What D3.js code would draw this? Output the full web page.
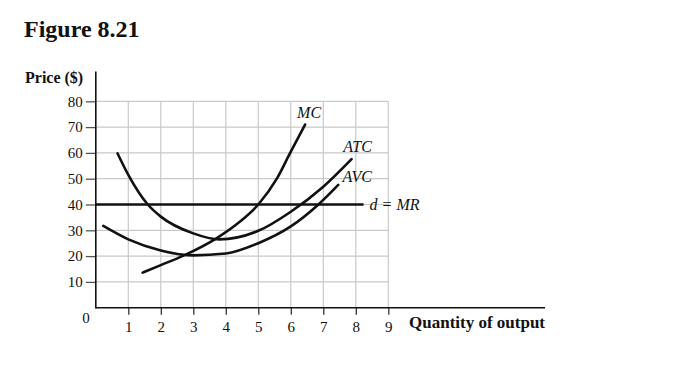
<!DOCTYPE html>
<html>
<head>
<meta charset="utf-8">
<script src="https://cdn.jsdelivr.net/npm/d3@7"></script>
<style>
  body { margin: 0; background: #fff; }
  svg { display: block; }
  text { font-family: "Liberation Serif", "Times New Roman", serif; fill: #111; }
</style>
</head>
<body>
<div id="vis"></div>
<script>
// data: [quantity, price]
const quantities = [1, 2, 3, 4, 5, 6, 7, 8, 9];
const priceTicks = [10, 20, 30, 40, 50, 60, 70, 80];
const mcCurve = [[1.44, 13.6], [2, 16.5], [2.7, 20.2], [3.7, 26.8], [4.4, 33], [5, 40], [5.57, 50], [5.98, 60], [6.44, 71]];
const atcCurve = [[0.67, 59.8], [1, 51.5], [1.6, 40], [2, 35.3], [3, 28.8], [3.8, 26.5], [5, 29.8], [6, 37.2], [7, 46.9], [7.87, 57.6]];
const avcCurve = [[0.23, 31.7], [1, 26.5], [2, 22.2], [3, 20.3], [4, 21], [5, 25], [6, 31.5], [6.85, 40], [7.46, 47.6]];
const mrPrice = 40;
const mrRange = [0, 8.24];

const width = 674;
const height = 380;

const svg = d3.select('#vis')
    .append('svg')
    .attr('width', width)
    .attr('height', height);

const x = d3.scaleLinear().domain([0, 9]).range([95.8, 388.3]);
const y = d3.scaleLinear().domain([0, 80]).range([307.7, 101.3]);

// grid
svg.append('g')
    .selectAll('line')
    .data(priceTicks)
    .join('line')
    .attr('x1', x(0)).attr('x2', x(9))
    .attr('y1', d => y(d)).attr('y2', d => y(d))
    .style('stroke', '#c9c9c9').style('stroke-width', 1.2);

svg.append('g')
    .selectAll('line')
    .data(quantities)
    .join('line')
    .attr('x1', d => x(d)).attr('x2', d => x(d))
    .attr('y1', y(0)).attr('y2', y(80))
    .style('stroke', '#c9c9c9').style('stroke-width', 1.2);

// axes
const yAxis = svg.append('g')
    .attr('transform', `translate(${x(0)},0)`)
    .call(d3.axisLeft(y).tickValues(priceTicks).tickSize(10).tickPadding(3));
yAxis.select('.domain').remove();
yAxis.selectAll('text').style('font-size', '15px').style('font-family', '"Liberation Serif", serif').style('fill', '#111');
yAxis.selectAll('line').style('stroke', '#555').style('stroke-width', 1.3);

const xAxis = svg.append('g')
    .attr('transform', `translate(0,${y(0)})`)
    .call(d3.axisBottom(x).tickValues(quantities).tickSize(7).tickPadding(7));
xAxis.select('.domain').remove();
xAxis.selectAll('text').style('font-size', '15px').style('font-family', '"Liberation Serif", serif').style('fill', '#111');
xAxis.selectAll('line').style('stroke', '#333').style('stroke-width', 1.3);

svg.append('line')
    .attr('x1', x(0)).attr('x2', 545)
    .attr('y1', y(0)).attr('y2', y(0))
    .style('stroke', '#111').style('stroke-width', 1.6);
svg.append('line')
    .attr('x1', x(0)).attr('x2', x(0))
    .attr('y1', y(0) + 0.8).attr('y2', 71.5)
    .style('stroke', '#111').style('stroke-width', 1.6);

// demand = marginal revenue
svg.append('line')
    .attr('x1', x(mrRange[0])).attr('x2', x(mrRange[1]))
    .attr('y1', y(mrPrice)).attr('y2', y(mrPrice))
    .style('stroke', '#111').style('stroke-width', 2.4);

// cost curves
const line = d3.line()
    .x(d => x(d[0]))
    .y(d => y(d[1]))
    .curve(d3.curveMonotoneX);

[mcCurve, atcCurve, avcCurve].forEach(c => {
    svg.append('path')
        .attr('d', line(c))
        .style('fill', 'none')
        .style('stroke', '#111')
        .style('stroke-width', 2.6)
        .style('stroke-linecap', 'round');
});

// curve labels
function label(txt, px, py, anchor) {
    svg.append('text')
        .attr('x', px).attr('y', py)
        .attr('text-anchor', anchor)
        .style('font-size', '16px')
        .style('font-style', 'italic')
        .text(txt);
}
const mcEnd = mcCurve[mcCurve.length - 1];
const atcEnd = atcCurve[atcCurve.length - 1];
const avcEnd = avcCurve[avcCurve.length - 1];
label('MC', x(mcEnd[0]) + 4, y(mcEnd[1]) - 7, 'middle');
label('ATC', x(atcEnd[0]) + 6, y(atcEnd[1]) - 7, 'middle');
label('AVC', x(avcEnd[0]) + 19, y(avcEnd[1]) - 3, 'middle');
label('d = MR', x(mrRange[1]) + 6, y(mrPrice) + 5, 'start');

// titles
svg.append('text')
    .attr('x', 24).attr('y', 37)
    .style('font-size', '24px').style('font-weight', 'bold')
    .text('Figure 8.21');

svg.append('text')
    .attr('x', 25).attr('y', 83)
    .style('font-size', '16px').style('font-weight', 'bold')
    .text('Price ($)');

svg.append('text')
    .attr('x', 86).attr('y', 323)
    .attr('text-anchor', 'middle')
    .style('font-size', '15px')
    .text('0');

svg.append('text')
    .attr('x', 409).attr('y', 328)
    .style('font-size', '17px').style('font-weight', 'bold')
    .text('Quantity of output');
</script>
</body>
</html>
